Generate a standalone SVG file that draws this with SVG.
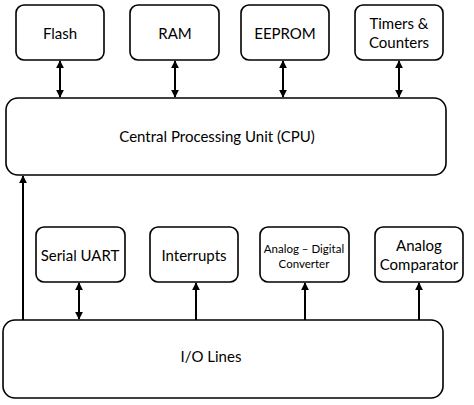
<svg xmlns="http://www.w3.org/2000/svg" width="474" height="405" viewBox="0 0 474 405">
<defs>
<marker id="ah" viewBox="0 0 10 10" refX="9" refY="5" markerWidth="4" markerHeight="4" orient="auto-start-reverse" markerUnits="strokeWidth">
<path d="M0,0 L10,5 L0,10 z" fill="#000"/>
</marker>
<style>
.box{fill:#fff;stroke:#000;stroke-width:1.6}
.t{font-family:Lato,"Open Sans",sans-serif;font-size:15px;fill:#000;text-anchor:middle;dominant-baseline:central}
.s{font-size:11.5px}
.c line{stroke:#000;stroke-width:2}
</style>
</defs>
<rect width="474" height="405" fill="#fff"/>
<g id="flash"><rect class="box" x="16" y="5" width="88" height="55" rx="8"/><text class="t" x="60" y="33">Flash</text></g>
<g id="ram"><rect class="box" x="130" y="5" width="89" height="55" rx="8"/><text class="t" x="175" y="33">RAM</text></g>
<g id="eeprom"><rect class="box" x="241" y="5" width="88" height="55" rx="8"/><text class="t" x="285" y="33">EEPROM</text></g>
<g id="timers"><rect class="box" x="355" y="5" width="88" height="55" rx="8"/><text class="t" x="399" y="23">Timers &amp;</text><text class="t" x="399" y="42">Counters</text></g>
<g id="cpu"><rect class="box" x="6" y="98" width="440" height="77" rx="12"/><text class="t" x="217" y="136">Central Processing Unit (CPU)</text></g>
<g id="uart"><rect class="box" x="36" y="227" width="89" height="55" rx="8"/><text class="t" x="80" y="255">Serial UART</text></g>
<g id="interrupts"><rect class="box" x="150" y="227" width="88" height="55" rx="8"/><text class="t" x="194" y="255">Interrupts</text></g>
<g id="adc"><rect class="box" x="260" y="227" width="89" height="55" rx="8"/><text class="t s" x="304" y="248">Analog – Digital</text><text class="t s" x="304" y="263">Converter</text></g>
<g id="comparator"><rect class="box" x="375" y="227" width="88" height="55" rx="8"/><text class="t" x="419" y="245">Analog</text><text class="t" x="419" y="264">Comparator</text></g>
<g id="io"><rect class="box" x="3" y="320" width="440" height="78" rx="12"/><text class="t" x="211" y="356">I/O Lines</text></g>
<g class="c" id="connectors">
<line x1="60" y1="61" x2="60" y2="97" marker-start="url(#ah)" marker-end="url(#ah)"/>
<line x1="175" y1="61" x2="175" y2="97" marker-start="url(#ah)" marker-end="url(#ah)"/>
<line x1="283" y1="61" x2="283" y2="97" marker-start="url(#ah)" marker-end="url(#ah)"/>
<line x1="399" y1="61" x2="399" y2="97" marker-start="url(#ah)" marker-end="url(#ah)"/>
<line x1="23" y1="320" x2="23" y2="176" marker-end="url(#ah)"/>
<line x1="79" y1="283" x2="79" y2="319" marker-start="url(#ah)" marker-end="url(#ah)"/>
<line x1="196" y1="320" x2="196" y2="283" marker-end="url(#ah)"/>
<line x1="305" y1="320" x2="305" y2="283" marker-end="url(#ah)"/>
<line x1="419" y1="320" x2="419" y2="283" marker-end="url(#ah)"/>
</g>
</svg>
